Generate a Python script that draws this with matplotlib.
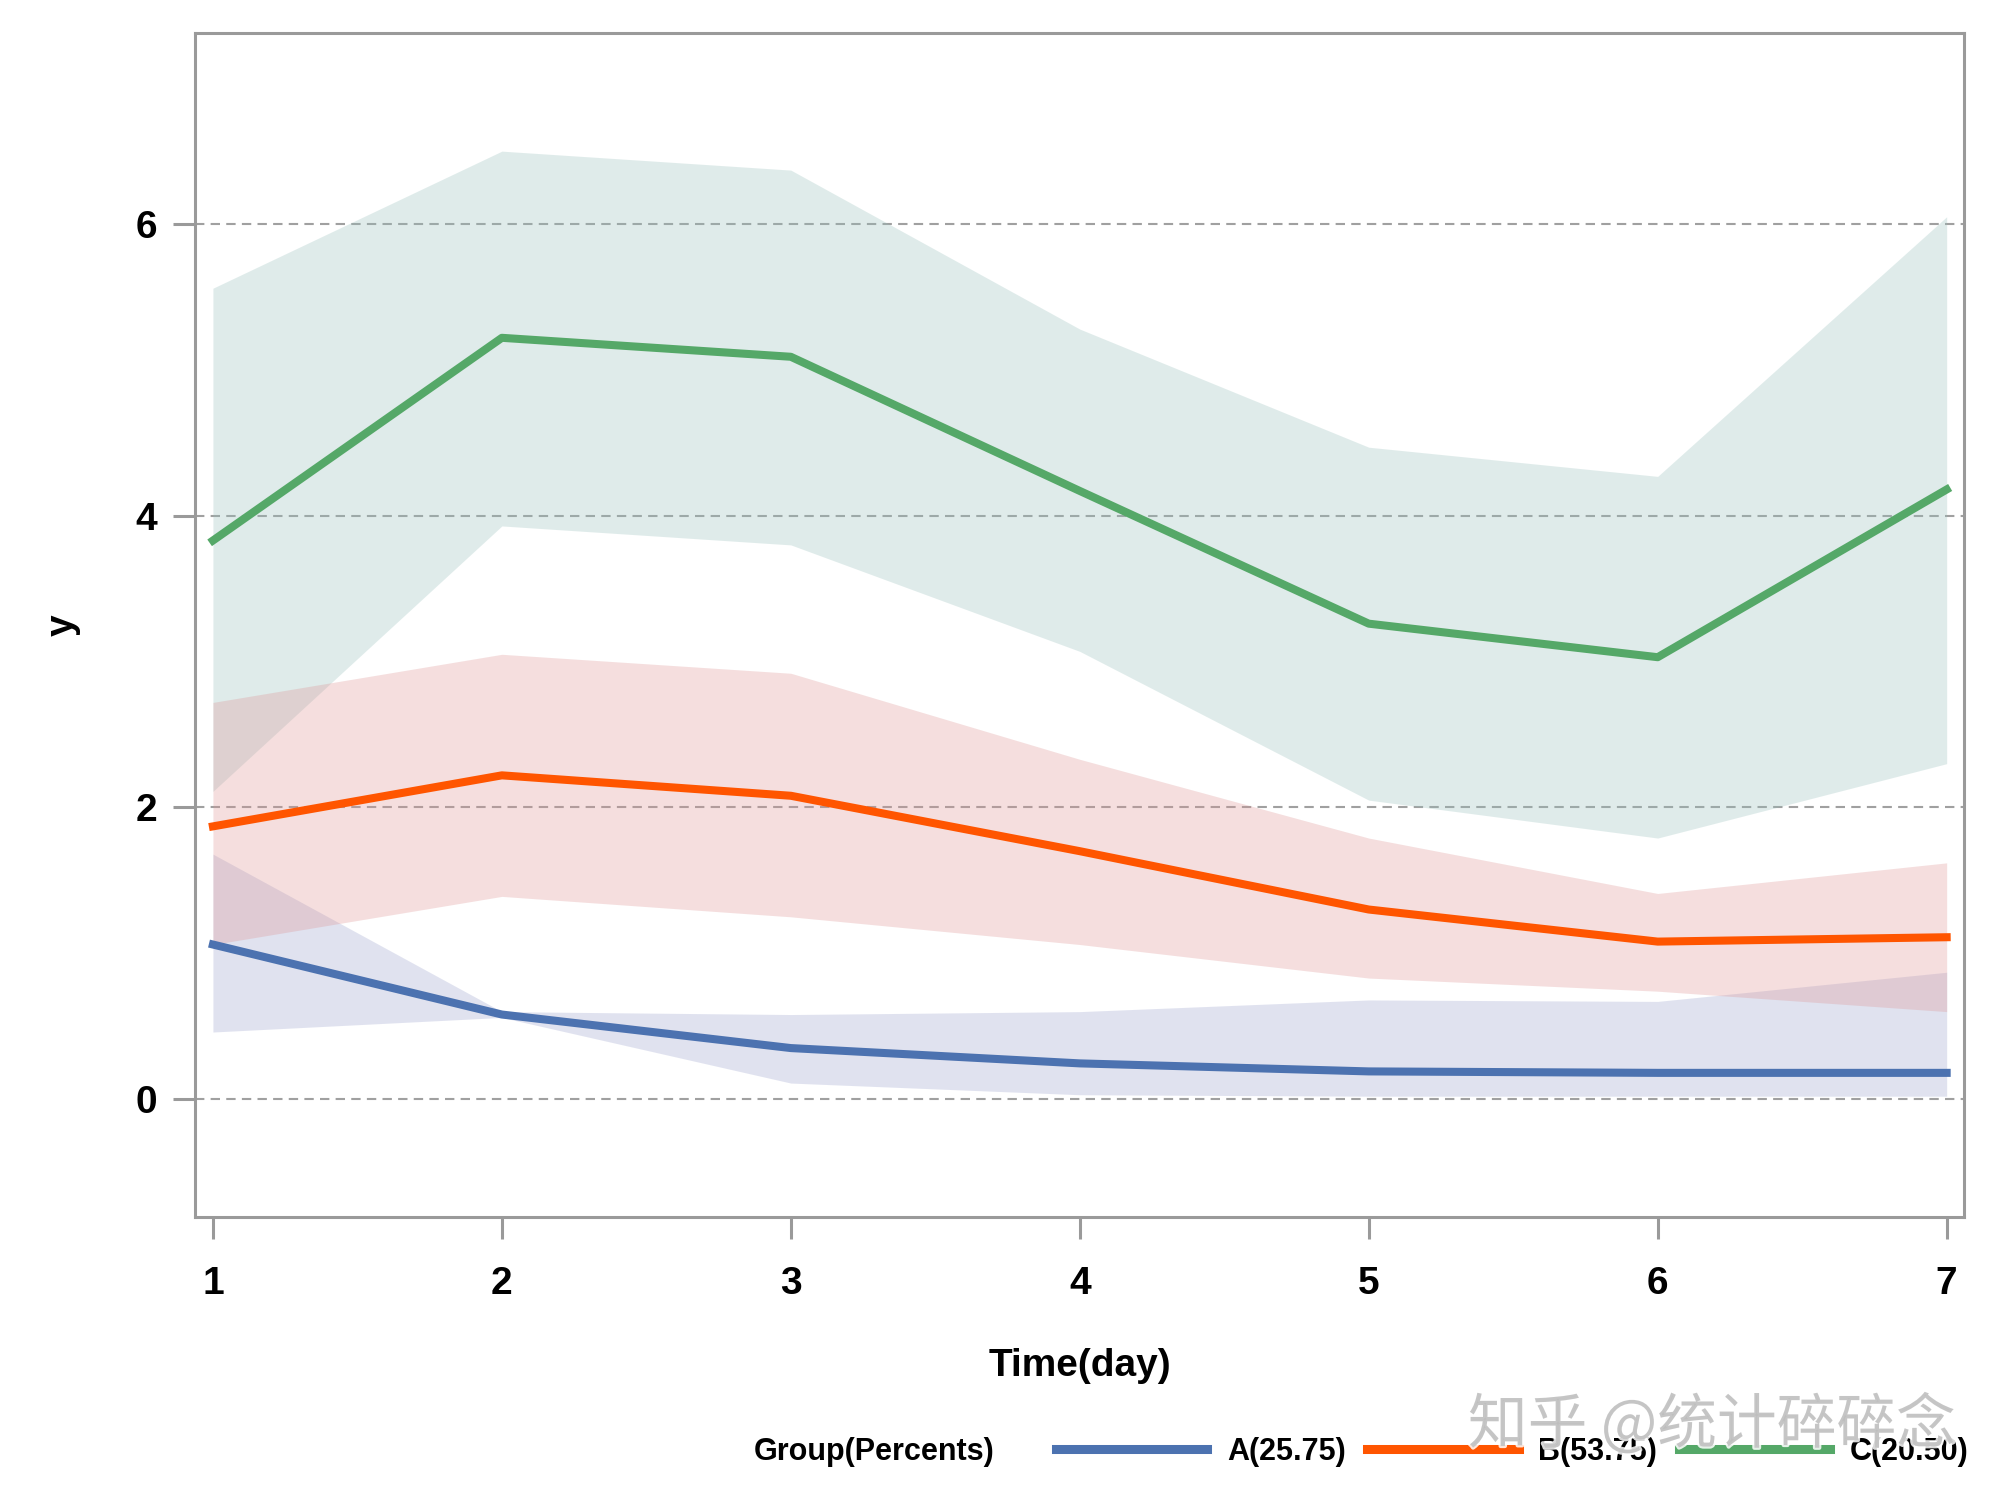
import matplotlib
matplotlib.use("Agg")
import matplotlib.pyplot as plt
import matplotlib.patheffects as pe
from matplotlib.lines import Line2D

plt.rcParams['font.family'] = ['Liberation Sans', 'DejaVu Sans']
plt.rcParams['font.weight'] = 'bold'

days = [1, 2, 3, 4, 5, 6, 7]

# group A
a_mean = [1.06, 0.58, 0.35, 0.245, 0.19, 0.18, 0.18]
a_upper = [1.68, 0.60, 0.58, 0.60, 0.68, 0.67, 0.87]
a_lower = [0.46, 0.56, 0.11, 0.03, 0.02, 0.02, 0.02]

# group B
b_mean = [1.87, 2.22, 2.08, 1.70, 1.30, 1.08, 1.11]
b_upper = [2.72, 3.05, 2.92, 2.33, 1.79, 1.41, 1.62]
b_lower = [1.06, 1.39, 1.25, 1.06, 0.83, 0.74, 0.60]

# group C
c_mean = [3.83, 5.22, 5.09, 4.17, 3.26, 3.03, 4.18]
c_upper = [5.56, 6.50, 6.37, 5.28, 4.47, 4.27, 6.05]
c_lower = [2.11, 3.93, 3.80, 3.07, 2.05, 1.79, 2.30]

labels = ['A(25.75)', 'B(53.75)', 'C(20.50)']
line_colors = ['#4C72B0', '#FF5500', '#55A868']
band_colors = ['#9BA2CD', '#DE9494', '#98C0BC']

yticks = [0, 2, 4, 6]
xticks = days

fig = plt.figure(figsize=(20, 15), dpi=100)
ax = fig.add_axes([0.0975, 0.1885, 0.8845, 0.7895])

means = [a_mean, b_mean, c_mean]
uppers = [a_upper, b_upper, c_upper]
lowers = [a_lower, b_lower, c_lower]

# bands first (green, blue, then pink on top)
for i in [2, 0, 1]:
    ax.fill_between(days, lowers[i], uppers[i], color=band_colors[i],
                    alpha=0.3, linewidth=0, zorder=1)

for y in yticks:
    ax.axhline(y, color='#a0a0a0', linewidth=1.5, linestyle=(0, (4.5, 3)), zorder=0.5)

for i in range(3):
    ax.plot(days, means[i], color=line_colors[i], linewidth=5.8, zorder=3)

ax.set_xlim(0.938, 7.06)
ax.set_ylim(-0.81, 7.31)
ax.set_xticks(xticks)
ax.set_yticks(yticks)

for s in ax.spines.values():
    s.set_color('#9a9a9a')
    s.set_linewidth(2.2)

ax.tick_params(axis='both', direction='out', length=16, width=2.2,
               color='#9a9a9a', labelsize=28)
ax.tick_params(axis='x', pad=19)
ax.tick_params(axis='y', pad=11)

ax.set_xlabel('Time(day)', fontsize=28, fontweight='bold')
ax.xaxis.set_label_coords(0.5, -0.126)
ax.xaxis.label.set_va('center')
ax.set_ylabel('y', fontsize=28, fontweight='bold')
ax.yaxis.set_label_coords(-0.075, 0.5)
ax.yaxis.label.set_va('center')

# legend
handles = [Line2D([], [], color=c, linewidth=6.5) for c in line_colors]
fig.text(0.377, 0.032, 'Group(Percents)', fontsize=22, fontweight='bold',
         ha='left', va='center')
fig.legend(handles, labels, loc='center left', bbox_to_anchor=(0.528, 0.032),
           ncol=3, frameon=False, fontsize=22, handlelength=4.95,
           handletextpad=0.65, columnspacing=0.7, borderpad=0, borderaxespad=0)

# watermark
fig.text(0.856, 0.049, '知乎 @统计碎碎念', fontsize=43, color='#bdbdbd',
         alpha=0.85, ha='center', va='center', fontweight='normal',
         family=['Noto Sans CJK SC', 'DejaVu Sans'], zorder=10,
         path_effects=[pe.withStroke(linewidth=3, foreground='white')])

fig.savefig('out.png', dpi=100)
